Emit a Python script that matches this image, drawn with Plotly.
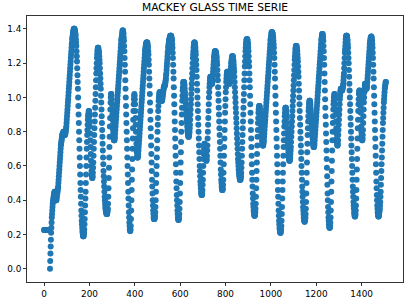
import plotly.graph_objects as go

# ---- data (index = time step) ----
seg00 = [0.227, 0.227, 0.227, 0.227, 0.227, 0.227, 0.227, 0.227, 0.227, 0.227,
         0.227, 0.227, 0.227, 0.227, 0.227, 0.227, 0.227, 0.227, 0.227, 0.227,
         0.227, 0.227, 0.227, 0.227, 0.227, 0.227]
seg01 = [0.00, 0.045, 0.09, 0.13, 0.17, 0.21, 0.24, 0.27, 0.30, 0.32,
         0.34, 0.36, 0.38, 0.39, 0.40]
seg02 = [0.41, 0.42, 0.43, 0.44, 0.44, 0.45, 0.45, 0.44, 0.43, 0.42,
         0.41, 0.40, 0.40, 0.40, 0.41, 0.42, 0.43, 0.44, 0.45, 0.46,
         0.47, 0.48]
seg03 = [0.50, 0.52, 0.54, 0.56, 0.58, 0.60, 0.62, 0.64, 0.66, 0.68,
         0.70, 0.72, 0.73, 0.74, 0.75, 0.76, 0.77, 0.78, 0.78, 0.79,
         0.79, 0.79, 0.80]
seg04 = [0.80, 0.80, 0.79, 0.79, 0.78, 0.78, 0.78, 0.79, 0.79, 0.80,
         0.81, 0.82, 0.83, 0.85, 0.87]
seg05 = [0.89, 0.91, 0.93, 0.95, 0.97, 0.99, 1.01, 1.03, 1.05, 1.07,
         1.09, 1.11, 1.13, 1.15, 1.17, 1.19, 1.21, 1.23, 1.25, 1.27,
         1.29, 1.31, 1.32, 1.34, 1.35, 1.36, 1.37, 1.38, 1.39, 1.39,
         1.40, 1.40, 1.40]
seg06 = [1.40, 1.39, 1.39, 1.38, 1.37, 1.36, 1.34, 1.32, 1.30, 1.27,
         1.24, 1.21, 1.17, 1.13, 1.09, 1.05, 1.00, 0.95, 0.90, 0.85,
         0.80, 0.75, 0.70, 0.65, 0.60, 0.55, 0.50, 0.46, 0.42, 0.38,
         0.34, 0.31, 0.28, 0.26, 0.24, 0.22, 0.21, 0.20, 0.19, 0.19,
         0.19]
seg07 = [0.20, 0.21, 0.23, 0.26, 0.29, 0.33, 0.37, 0.41, 0.45, 0.50,
         0.55, 0.60, 0.65, 0.70, 0.74, 0.78, 0.81, 0.84, 0.87, 0.89,
         0.90, 0.91, 0.92, 0.92]
seg08 = [0.91, 0.89, 0.86, 0.83, 0.79, 0.75, 0.71, 0.67, 0.63, 0.60,
         0.57, 0.55, 0.54, 0.53, 0.53]
seg09 = [0.54, 0.56, 0.59, 0.62, 0.66, 0.70, 0.74, 0.78, 0.82, 0.86,
         0.90, 0.94, 0.98, 1.02, 1.06, 1.10, 1.14, 1.17, 1.20, 1.23,
         1.25, 1.27, 1.28, 1.29, 1.29]
seg10 = [1.29, 1.28, 1.27, 1.26, 1.24, 1.22, 1.20, 1.17, 1.14, 1.11,
         1.08, 1.05, 1.01, 0.97, 0.93, 0.89, 0.85, 0.81, 0.77, 0.73,
         0.69, 0.65, 0.61, 0.57, 0.54, 0.51, 0.48, 0.45, 0.42, 0.40,
         0.38, 0.36, 0.35, 0.34, 0.33, 0.33, 0.32, 0.32, 0.32, 0.32,
         0.33, 0.34, 0.35]
seg11 = [0.38, 0.42, 0.47, 0.53, 0.59, 0.65, 0.71, 0.77, 0.83, 0.88,
         0.93, 0.97, 1.00, 1.02, 1.02]
seg12 = [1.01, 0.99, 0.96, 0.93, 0.90, 0.87, 0.84, 0.81, 0.79, 0.77,
         0.76, 0.75, 0.75, 0.75, 0.76]
seg13 = [0.77, 0.79, 0.81, 0.83, 0.85, 0.87, 0.89, 0.91, 0.93, 0.95,
         0.97, 0.99, 1.01, 1.03, 1.05, 1.07, 1.09, 1.11, 1.13, 1.15,
         1.17, 1.19, 1.21, 1.23, 1.25, 1.27, 1.29, 1.31, 1.33, 1.34,
         1.35, 1.36, 1.37, 1.38, 1.39, 1.39]
seg14 = [1.39, 1.38, 1.37, 1.35, 1.33, 1.30, 1.27, 1.23, 1.19, 1.15,
         1.10, 1.05, 1.00, 0.95, 0.90, 0.85, 0.80, 0.75, 0.70, 0.65,
         0.60, 0.55, 0.50, 0.45, 0.41, 0.37, 0.33, 0.30, 0.27, 0.25,
         0.23, 0.22, 0.22]
seg15 = [0.23, 0.25, 0.29, 0.34, 0.40, 0.46, 0.52, 0.58, 0.64, 0.70,
         0.76, 0.82, 0.87, 0.92, 0.96, 0.99, 1.01, 1.02]
seg16 = [1.01, 0.99, 0.96, 0.92, 0.88, 0.84, 0.80, 0.76, 0.73, 0.70,
         0.68, 0.66, 0.65, 0.65, 0.65, 0.66]
seg17 = [0.67, 0.69, 0.71, 0.73, 0.75, 0.77, 0.79, 0.81, 0.83, 0.85,
         0.87, 0.89, 0.91, 0.93, 0.95, 0.97, 0.99, 1.01, 1.03, 1.05,
         1.07, 1.09, 1.11, 1.13, 1.15, 1.17, 1.19, 1.21, 1.23, 1.25,
         1.27, 1.28, 1.29, 1.30, 1.31, 1.31, 1.32, 1.32, 1.32, 1.32,
         1.32]
seg18 = [1.31, 1.30, 1.29, 1.27, 1.25, 1.22, 1.19, 1.15, 1.11, 1.07,
         1.02, 0.97, 0.92, 0.87, 0.82, 0.77, 0.72, 0.67, 0.62, 0.57,
         0.52, 0.48, 0.44, 0.40, 0.37, 0.34, 0.32, 0.30, 0.29, 0.29,
         0.29, 0.29, 0.30, 0.31, 0.33]
seg19 = [0.36, 0.40, 0.45, 0.50, 0.55, 0.60, 0.65, 0.70, 0.75, 0.80,
         0.84, 0.88, 0.92, 0.95, 0.98, 1.00, 1.01, 1.02, 1.03, 1.03,
         1.03, 1.03, 1.02]
seg20 = [1.01, 1.00, 0.99, 0.98, 0.98, 0.98, 0.98, 0.99, 1.00, 1.01,
         1.02, 1.03, 1.04, 1.05, 1.06, 1.06, 1.07, 1.07, 1.07, 1.07,
         1.08, 1.09]
seg21 = [1.10, 1.11, 1.13, 1.14, 1.16, 1.18, 1.20, 1.22, 1.24, 1.26,
         1.27, 1.29, 1.30, 1.31, 1.32, 1.33, 1.34, 1.34, 1.35, 1.35,
         1.36, 1.36, 1.36, 1.36, 1.36, 1.35, 1.35, 1.34]
seg22 = [1.33, 1.31, 1.29, 1.26, 1.23, 1.19, 1.15, 1.11, 1.06, 1.01,
         0.96, 0.91, 0.86, 0.81, 0.76, 0.71, 0.66, 0.61, 0.56, 0.51,
         0.47, 0.43, 0.40, 0.37, 0.34, 0.32, 0.30, 0.29, 0.285, 0.285,
         0.29, 0.30, 0.32, 0.35, 0.39, 0.44, 0.50]
seg23 = [0.56, 0.62, 0.68, 0.74, 0.80, 0.85, 0.90, 0.94, 0.98, 1.01,
         1.04, 1.06, 1.08, 1.09, 1.09, 1.09, 1.09, 1.08, 1.07, 1.05,
         1.03, 1.01, 0.99, 0.97, 0.95]
seg24 = [0.93, 0.91, 0.89, 0.87, 0.85, 0.83, 0.81, 0.80, 0.79, 0.78,
         0.77, 0.77, 0.77, 0.78, 0.79, 0.80, 0.82]
seg25 = [0.84, 0.87, 0.90, 0.93, 0.96, 0.99, 1.02, 1.05, 1.08, 1.11,
         1.14, 1.17, 1.20, 1.23, 1.25, 1.27, 1.29, 1.30, 1.31, 1.32,
         1.32, 1.32, 1.31]
seg26 = [1.30, 1.29, 1.27, 1.25, 1.22, 1.19, 1.16, 1.12, 1.08, 1.04,
         1.00, 0.96, 0.92, 0.88, 0.84, 0.80, 0.76, 0.72, 0.68, 0.64,
         0.60, 0.57, 0.54, 0.51, 0.49, 0.47, 0.45, 0.44, 0.43, 0.43,
         0.43, 0.44, 0.46, 0.49, 0.52, 0.56, 0.60]
seg27 = [0.64, 0.67, 0.70, 0.72, 0.73, 0.73, 0.72, 0.71, 0.69, 0.67,
         0.65, 0.64, 0.63, 0.63, 0.64, 0.66, 0.69, 0.72, 0.76, 0.80]
seg28 = [0.84, 0.88, 0.92, 0.96, 1.00, 1.03, 1.06, 1.08, 1.10, 1.11,
         1.12, 1.12, 1.12, 1.11, 1.10, 1.09, 1.08, 1.08, 1.08, 1.09,
         1.11, 1.13, 1.15]
seg29 = [1.17, 1.19, 1.21, 1.23, 1.24, 1.25, 1.26, 1.27, 1.27, 1.27,
         1.27, 1.26, 1.26, 1.25, 1.24]
seg30 = [1.23, 1.21, 1.19, 1.16, 1.13, 1.10, 1.06, 1.02, 0.98, 0.94,
         0.90, 0.86, 0.82, 0.78, 0.74, 0.70, 0.66, 0.62, 0.58, 0.55,
         0.52, 0.50, 0.48, 0.47, 0.46, 0.46, 0.46, 0.47, 0.49, 0.52,
         0.56]
seg31 = [0.61, 0.66, 0.71, 0.76, 0.81, 0.86, 0.91, 0.95, 0.99, 1.03,
         1.06, 1.09, 1.11, 1.13, 1.14, 1.15, 1.15, 1.15, 1.14, 1.13,
         1.12]
seg32 = [1.11, 1.10, 1.09, 1.08, 1.08, 1.08, 1.09, 1.10, 1.12, 1.14,
         1.16, 1.18, 1.20, 1.21, 1.22, 1.23, 1.24, 1.24, 1.24, 1.24,
         1.23, 1.22, 1.21, 1.19, 1.17]
seg33 = [1.15, 1.12, 1.09, 1.06, 1.03, 1.00, 0.97, 0.94, 0.91, 0.88,
         0.85, 0.82, 0.79, 0.76, 0.73, 0.70, 0.67, 0.64, 0.62, 0.60,
         0.58, 0.56, 0.55, 0.54, 0.53, 0.52, 0.52, 0.52, 0.52, 0.53,
         0.54, 0.56, 0.59, 0.62, 0.66]
seg34 = [0.70, 0.74, 0.78, 0.82, 0.86, 0.90, 0.94, 0.98, 1.02, 1.06,
         1.10, 1.14, 1.18, 1.21, 1.24, 1.27, 1.29, 1.31, 1.32, 1.33,
         1.34, 1.34, 1.34, 1.34, 1.33]
seg35 = [1.32, 1.31, 1.29, 1.27, 1.24, 1.21, 1.18, 1.14, 1.10, 1.06,
         1.01, 0.96, 0.91, 0.86, 0.81, 0.76, 0.71, 0.66, 0.61, 0.56,
         0.52, 0.48, 0.44, 0.41, 0.38, 0.36, 0.34, 0.33, 0.32, 0.31,
         0.31, 0.31, 0.32, 0.33, 0.35, 0.38, 0.42, 0.47]
seg36 = [0.52, 0.57, 0.62, 0.67, 0.72, 0.77, 0.81, 0.85, 0.88, 0.91,
         0.93, 0.94, 0.95, 0.95, 0.95, 0.94, 0.93, 0.91, 0.89, 0.87]
seg37 = [0.85, 0.83, 0.81, 0.79, 0.77, 0.75, 0.74, 0.73, 0.72, 0.72,
         0.72, 0.73, 0.74, 0.75, 0.77, 0.79, 0.81]
seg38 = [0.83, 0.85, 0.87, 0.89, 0.91, 0.93, 0.95, 0.97, 0.99, 1.01,
         1.03, 1.05, 1.07, 1.09, 1.11, 1.13, 1.15, 1.17, 1.19, 1.21,
         1.23, 1.25, 1.27, 1.29, 1.31, 1.33, 1.34, 1.35, 1.36, 1.37,
         1.38, 1.38, 1.38, 1.38, 1.37, 1.37]
seg39 = [1.36, 1.35, 1.33, 1.31, 1.29, 1.26, 1.23, 1.19, 1.15, 1.11,
         1.06, 1.01, 0.96, 0.91, 0.86, 0.81, 0.76, 0.71, 0.66, 0.61,
         0.56, 0.51, 0.46, 0.42, 0.38, 0.34, 0.31, 0.28, 0.26, 0.24,
         0.23, 0.22, 0.21, 0.21, 0.21, 0.22, 0.23, 0.25, 0.28, 0.32,
         0.36]
seg40 = [0.41, 0.46, 0.51, 0.56, 0.61, 0.66, 0.71, 0.75, 0.79, 0.83,
         0.86, 0.89, 0.91, 0.93, 0.94, 0.94, 0.94, 0.93, 0.92, 0.90,
         0.88, 0.85, 0.82, 0.79]
seg41 = [0.76, 0.73, 0.70, 0.68, 0.66, 0.65, 0.64, 0.63, 0.63, 0.63,
         0.64, 0.65, 0.67, 0.69, 0.71]
seg42 = [0.74, 0.77, 0.80, 0.83, 0.86, 0.89, 0.92, 0.95, 0.98, 1.01,
         1.04, 1.07, 1.10, 1.13, 1.16, 1.19, 1.22, 1.24, 1.26, 1.28,
         1.29, 1.30]
seg43 = [1.30, 1.30, 1.30, 1.29, 1.28, 1.27, 1.25, 1.23, 1.21, 1.18,
         1.15, 1.12, 1.08, 1.04, 1.00, 0.96, 0.92, 0.88, 0.84, 0.80,
         0.76, 0.72, 0.68, 0.64, 0.60, 0.56, 0.52, 0.48, 0.45, 0.42,
         0.39, 0.36, 0.34, 0.32, 0.30, 0.29, 0.28, 0.275, 0.275, 0.28,
         0.29, 0.30, 0.32, 0.35, 0.39, 0.44, 0.50, 0.56]
seg44 = [0.62, 0.68, 0.73, 0.78, 0.82, 0.86, 0.89, 0.92, 0.94, 0.96,
         0.97, 0.98, 0.98, 0.98, 0.97, 0.96, 0.94, 0.92]
seg45 = [0.90, 0.88, 0.86, 0.84, 0.82, 0.80, 0.78, 0.76, 0.74, 0.73,
         0.72, 0.71, 0.71, 0.71, 0.72, 0.73, 0.75, 0.77]
seg46 = [0.79, 0.81, 0.83, 0.85, 0.87, 0.89, 0.91, 0.93, 0.95, 0.97,
         0.99, 1.01, 1.03, 1.05, 1.07, 1.09, 1.11, 1.13, 1.15, 1.17,
         1.19, 1.21, 1.23, 1.25, 1.27, 1.29, 1.31, 1.33, 1.34, 1.35,
         1.36, 1.37, 1.37, 1.37]
seg47 = [1.36, 1.35, 1.33, 1.30, 1.27, 1.23, 1.19, 1.14, 1.09, 1.04,
         0.99, 0.94, 0.89, 0.84, 0.79, 0.74, 0.69, 0.64, 0.59, 0.54,
         0.49, 0.44, 0.40, 0.36, 0.33, 0.30, 0.28, 0.26, 0.25, 0.24,
         0.24, 0.24]
seg48 = [0.25, 0.27, 0.30, 0.34, 0.39, 0.45, 0.51, 0.57, 0.63, 0.69,
         0.75, 0.80, 0.85, 0.89, 0.93, 0.96, 0.98, 1.00, 1.01, 1.02,
         1.02]
seg49 = [1.01, 0.99, 0.96, 0.93, 0.90, 0.86, 0.82, 0.79, 0.76, 0.74,
         0.73, 0.72, 0.72, 0.73, 0.75]
seg50 = [0.78, 0.81, 0.84, 0.87, 0.90, 0.93, 0.96, 0.99, 1.01, 1.03,
         1.04, 1.05, 1.05, 1.05, 1.05, 1.04, 1.04, 1.04, 1.05, 1.05,
         1.06, 1.07, 1.08, 1.10, 1.12, 1.14, 1.17, 1.20, 1.23, 1.26,
         1.28, 1.30, 1.32, 1.34, 1.35, 1.36, 1.36]
seg51 = [1.36, 1.36, 1.35, 1.34, 1.33, 1.31, 1.29, 1.26, 1.23, 1.20,
         1.16, 1.12, 1.08, 1.04, 1.00, 0.96, 0.92, 0.88, 0.84, 0.80,
         0.76, 0.72, 0.68, 0.64, 0.60, 0.56, 0.52, 0.48, 0.45, 0.42,
         0.39, 0.37, 0.35, 0.33, 0.32, 0.31, 0.305, 0.305, 0.31, 0.32,
         0.34, 0.37]
seg52 = [0.41, 0.46, 0.52, 0.58, 0.64, 0.70, 0.76, 0.82, 0.87, 0.92,
         0.96, 0.99, 1.02, 1.03, 1.04]
seg53 = [1.04, 1.03, 1.01, 0.98, 0.95, 0.91, 0.87, 0.83, 0.80, 0.78,
         0.76, 0.75, 0.75, 0.76]
seg54 = [0.78, 0.81, 0.85, 0.89, 0.93, 0.97, 1.00, 1.03, 1.05, 1.07,
         1.08, 1.08, 1.08, 1.07, 1.06, 1.05, 1.05, 1.05, 1.06, 1.07,
         1.09]
seg55 = [1.11, 1.13, 1.15, 1.17, 1.19, 1.21, 1.23, 1.25, 1.27, 1.29,
         1.31, 1.32, 1.33, 1.34, 1.35, 1.35, 1.355, 1.355, 1.35]
seg56 = [1.34, 1.33, 1.31, 1.29, 1.26, 1.23, 1.19, 1.15, 1.11, 1.06,
         1.01, 0.96, 0.91, 0.86, 0.81, 0.76, 0.71, 0.66, 0.61, 0.56,
         0.51, 0.47, 0.43, 0.40, 0.37, 0.35, 0.33, 0.32, 0.31, 0.305,
         0.305, 0.31, 0.32]
seg57 = [0.33, 0.34, 0.35, 0.37, 0.39, 0.42, 0.45, 0.49, 0.53, 0.57,
         0.61, 0.65, 0.69, 0.73, 0.77, 0.81, 0.85, 0.88, 0.91, 0.94,
         0.97, 0.99, 1.01, 1.03, 1.05, 1.06, 1.07, 1.08, 1.09, 1.09]

segments = [seg00, seg01, seg02, seg03, seg04, seg05, seg06, seg07, seg08, seg09,
            seg10, seg11, seg12, seg13, seg14, seg15, seg16, seg17, seg18, seg19,
            seg20, seg21, seg22, seg23, seg24, seg25, seg26, seg27, seg28, seg29,
            seg30, seg31, seg32, seg33, seg34, seg35, seg36, seg37, seg38, seg39,
            seg40, seg41, seg42, seg43, seg44, seg45, seg46, seg47, seg48, seg49,
            seg50, seg51, seg52, seg53, seg54, seg55, seg56, seg57]

values = []
for s in segments:
    values.extend(s)
steps = list(range(len(values)))

x_ticks = [0, 200, 400, 600, 800, 1000, 1200, 1400]
y_ticks = [0.0, 0.2, 0.4, 0.6, 0.8, 1.0, 1.2, 1.4]
title_text = "MACKEY GLASS TIME SERIE"

FONT = "DejaVu Sans"

fig = go.Figure(
    go.Scatter(
        x=steps, y=values, mode="markers",
        marker=dict(color="#1f77b4", size=6, line=dict(width=0)),
        hoverinfo="skip",
    )
)

axis_common = dict(
    showgrid=False, zeroline=False,
    showline=True, linecolor="#333333", linewidth=0.8, mirror=True,
    ticks="outside", ticklen=3, tickwidth=0.7, tickcolor="#333333",
    tickfont=dict(family=FONT, size=8.9, color="#000000"),
)

fig.update_layout(
    width=411, height=306,
    margin=dict(l=23, r=7, t=16, b=22),
    paper_bgcolor="white", plot_bgcolor="white",
    showlegend=False,
    title=dict(text=title_text, x=0.5, xref="paper", xanchor="center",
               y=1 - 7 / 306, yref="container", yanchor="middle",
               font=dict(family=FONT, size=10.7, color="#000000")),
    xaxis=dict(range=[-75.4, 1582.4], tickvals=x_ticks,
               ticktext=[str(v) for v in x_ticks], **axis_common),
    yaxis=dict(range=[-0.077, 1.475], tickvals=y_ticks,
               ticktext=["%.1f" % v for v in y_ticks], **axis_common),
)

fig.write_html("out.html")
